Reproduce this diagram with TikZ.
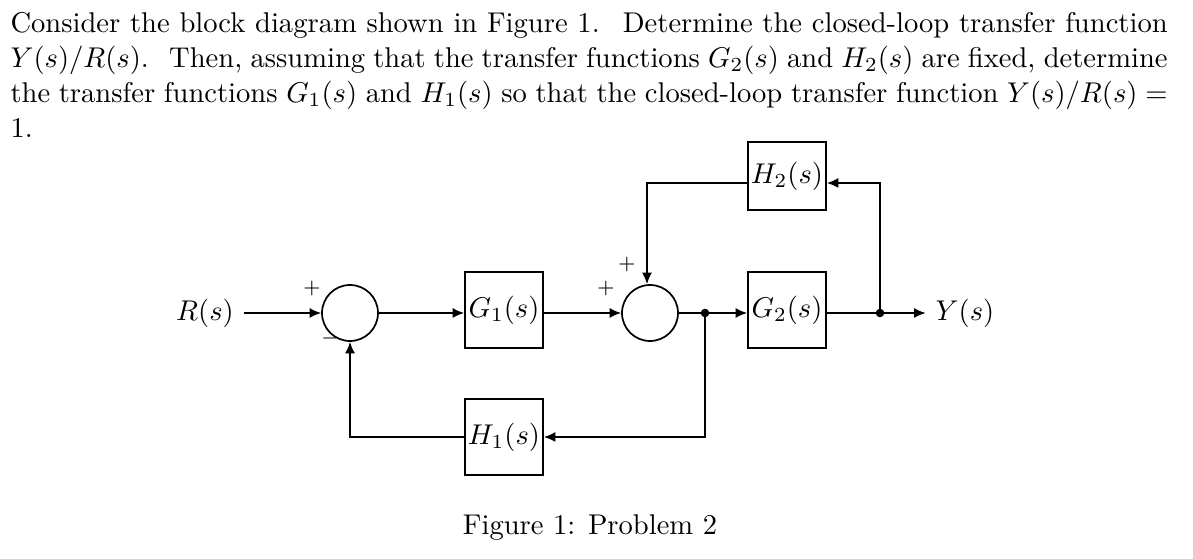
\documentclass[tikz,border=0pt]{standalone}
\usetikzlibrary{arrows.meta}
\begin{document}
\begin{tikzpicture}[x=0.35pt,y=-0.35pt,
 blk/.style={draw,line width=0.6pt,minimum width=78*0.35pt,minimum height=76*0.35pt,inner sep=0pt},
 sum/.style={draw,line width=0.6pt,circle,minimum size=56*0.35pt,inner sep=0pt},
 ln/.style={line width=0.6pt},
 ar/.style={ln,-{Latex[length=4pt,width=3.5pt]}},
 dot/.style={circle,fill,inner sep=0pt,minimum size=3pt}]
\useasboundingbox (0,0) rectangle (1193,559);
\node[anchor=north west,inner sep=0pt] (par) at (10,12) {\parbox{405pt}{\baselineskip=12.2pt Consider the block diagram shown in Figure 1. \ Determine the closed-loop transfer function $Y(s)/R(s)$. \ Then, assuming that the transfer functions $G_2(s)$ and $H_2(s)$ are fixed, determine the transfer functions $G_1(s)$ and $H_1(s)$ so that the closed-loop transfer function $Y(s)/R(s)=1$.}};
\node (R) at (205,313) {$R(s)$};
\node[sum] (s1) at (350,313) {};
\node[blk] (G1) at (504,310) {$G_1(s)$};
\node[sum] (s2) at (650,313) {};
\coordinate (d1) at (705,313);
\node[dot] at (d1) {};
\node[blk] (G2) at (787,310) {$G_2(s)$};
\coordinate (d2) at (880,313);
\node[dot] at (d2) {};
\node (Y) at (965,313) {$Y(s)$};
\node[blk,minimum height=68*0.35pt] (H2) at (787,176) {$H_2(s)$};
\node[blk] (H1) at (504,437) {$H_1(s)$};
\coordinate (c1) at (880,183);
\coordinate (c2) at (647,183);
\coordinate (c3) at (705,437);
\coordinate (c4) at (350,437);
\draw[ar] (R) -- (s1);
\draw[ar] (s1) -- (G1.west|-s1);
\draw[ar] (G1.east|-s2) -- (s2);
\draw[ln] (s2) -- (d1);
\draw[ar] (d1) -- (G2.west|-d1);
\draw[ln] (G2.east|-d2) -- (d2);
\draw[ar] (d2) -- (Y);
\draw[ar] (d2) -- (c1) -- (H2.east|-c1);
\draw[ar] (H2.west|-c2) -- (c2) -- (s2.north-|c2);
\draw[ar] (d1) -- (c3) -- (H1.east|-c3);
\draw[ar] (H1.west|-c4) -- (c4) -- (s1.south);
\node (p1) at (312,289) {\scriptsize$+$};
\node (m1) at (330,339) {\scriptsize$-$};
\node (p2) at (627,265) {\scriptsize$+$};
\node (p3) at (606,289) {\scriptsize$+$};
\node (cap) at (590,528) {Figure 1: Problem 2};
\end{tikzpicture}
\end{document}
